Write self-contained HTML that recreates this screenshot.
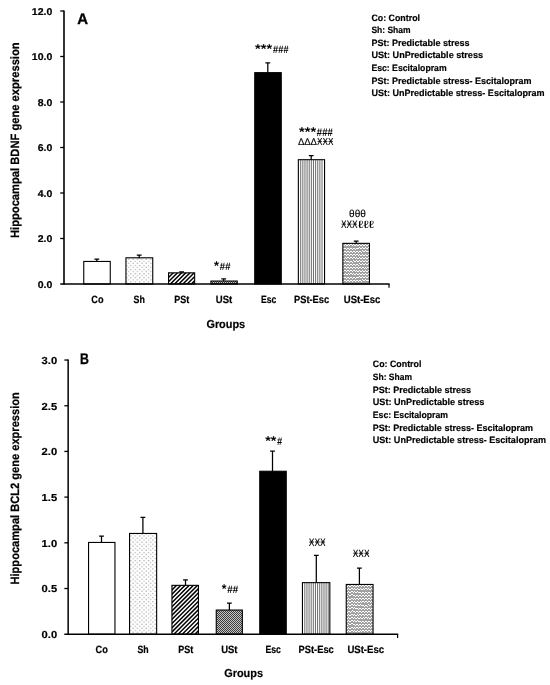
<!DOCTYPE html>
<html lang="en"><head><meta charset="utf-8"><title>Hippocampal BDNF and BCL2 gene expression</title>
<style>html,body{margin:0;padding:0;background:#fff}body{width:550px;height:685px;overflow:hidden}svg{display:block}text{font-family:"Liberation Sans", "DejaVu Sans", sans-serif;fill:#000;text-rendering:geometricPrecision}</style>
</head><body>
<svg width="550" height="685" viewBox="0 0 550 685">
<defs>
<pattern id="dots" width="4.4" height="4.1" patternUnits="userSpaceOnUse"><rect width="4.4" height="4.1" fill="#fff"/><rect x="0.6" y="0.5" width="1" height="1" fill="#8a8a8a"/><rect x="2.8" y="2.55" width="1" height="1" fill="#8a8a8a"/></pattern>
<pattern id="check" width="2" height="2" patternUnits="userSpaceOnUse"><rect width="2" height="2" fill="#c4c4c4"/><rect width="1" height="1" fill="#3c3c3c"/><rect x="1" y="1" width="1" height="1" fill="#3c3c3c"/></pattern>
<path id="zz" d="M0 0l1.45-.7 1.45 .7l1.45-.7 1.45 .7l1.45-.7 1.45 .7l1.45-.7 1.45 .7l1.45-.7 1.45 .7l1.45-.7 1.45 .7l1.45-.7 1.45 .7l1.45-.7 1.45 .7l1.45-.7 1.45 .7l1.45-.7 1.45 .7l1.45-.7 1.45 .7"/>
</defs>
<rect width="550" height="685" fill="#fff"/>
<rect x="83.75" y="261.45" width="26.50" height="22.55" fill="#fff" stroke="#000" stroke-width="1.1"/>
<rect x="125.95" y="257.80" width="26.80" height="26.20" fill="url(#dots)" stroke="#000" stroke-width="1.1"/>
<clipPath id="ch168_272"><rect x="168.50" y="272.80" width="26.20" height="11.20"/></clipPath>
<path clip-path="url(#ch168_272)" d="M156.80 285.00L170.50 271.30M161.00 285.00L174.70 271.30M165.20 285.00L178.90 271.30M169.40 285.00L183.10 271.30M173.60 285.00L187.30 271.30M177.80 285.00L191.50 271.30M182.00 285.00L195.70 271.30M186.20 285.00L199.90 271.30M190.40 285.00L204.10 271.30" stroke="#000" stroke-width="1.5" fill="none"/>
<rect x="168.55" y="272.85" width="26.10" height="11.15" fill="none" stroke="#000" stroke-width="1.1"/>
<rect x="210.95" y="281.05" width="26.30" height="2.95" fill="url(#check)" stroke="#000" stroke-width="1.1"/>
<rect x="254.75" y="72.65" width="26.50" height="211.35" fill="#000" stroke="#000" stroke-width="1.1"/>
<path d="M300.70 160.2V284.0M302.83 160.2V284.0M304.96 160.2V284.0M307.09 160.2V284.0M309.22 160.2V284.0M311.35 160.2V284.0M313.48 160.2V284.0M315.61 160.2V284.0M317.74 160.2V284.0M319.87 160.2V284.0M322.00 160.2V284.0" stroke="#6c6c6c" stroke-width="1" fill="none"/>
<rect x="298.35" y="159.70" width="26.20" height="124.30" fill="none" stroke="#000" stroke-width="1.1"/>
<clipPath id="cz342_242"><rect x="342.80" y="243.30" width="26.70" height="40.70"/></clipPath>
<g clip-path="url(#cz342_242)" stroke="#8a8a8a" stroke-width="0.8" fill="none" shape-rendering="crispEdges"><use href="#zz" x="342.30" y="243.80"/><use href="#zz" x="342.30" y="245.25"/><use href="#zz" x="342.30" y="246.70"/><use href="#zz" x="342.30" y="248.15"/><use href="#zz" x="342.30" y="249.60"/><use href="#zz" x="342.30" y="251.05"/><use href="#zz" x="342.30" y="252.50"/><use href="#zz" x="342.30" y="253.95"/><use href="#zz" x="342.30" y="255.40"/><use href="#zz" x="342.30" y="256.85"/><use href="#zz" x="342.30" y="258.30"/><use href="#zz" x="342.30" y="259.75"/><use href="#zz" x="342.30" y="261.20"/><use href="#zz" x="342.30" y="262.65"/><use href="#zz" x="342.30" y="264.10"/><use href="#zz" x="342.30" y="265.55"/><use href="#zz" x="342.30" y="267.00"/><use href="#zz" x="342.30" y="268.45"/><use href="#zz" x="342.30" y="269.90"/><use href="#zz" x="342.30" y="271.35"/><use href="#zz" x="342.30" y="272.80"/><use href="#zz" x="342.30" y="274.25"/><use href="#zz" x="342.30" y="275.70"/><use href="#zz" x="342.30" y="277.15"/><use href="#zz" x="342.30" y="278.60"/><use href="#zz" x="342.30" y="280.05"/><use href="#zz" x="342.30" y="281.50"/><use href="#zz" x="342.30" y="282.95"/><use href="#zz" x="342.30" y="284.40"/></g>
<rect x="342.85" y="243.35" width="26.60" height="40.65" fill="none" stroke="#000" stroke-width="1.1"/>
<path d="M94.40 259.20H99.20M96.80 259.20V261.40" stroke="#000" stroke-width="1.25" fill="none"/>
<path d="M136.80 255.10H141.60M139.20 255.10V258.20" stroke="#000" stroke-width="1.25" fill="none"/>
<path d="M179.20 271.90H184.00M181.60 271.90V272.80" stroke="#000" stroke-width="1.25" fill="none"/>
<path d="M221.30 278.80H226.10M223.70 278.80V281.00" stroke="#000" stroke-width="1.25" fill="none"/>
<path d="M265.40 62.85H270.20M267.80 62.85V73.00" stroke="#000" stroke-width="1.25" fill="none"/>
<path d="M308.80 155.50H313.60M311.20 155.50V159.80" stroke="#000" stroke-width="1.25" fill="none"/>
<path d="M353.80 241.00H358.60M356.20 241.00V243.30" stroke="#000" stroke-width="1.25" fill="none"/>
<path d="M64.0 10.40V284.80" stroke="#000" stroke-width="1.6" fill="none"/>
<path d="M60.20 284.0H389.6" stroke="#000" stroke-width="1.6" fill="none"/>
<path d="M389.00 284.0V287.70" stroke="#000" stroke-width="1.2" fill="none"/>
<path d="M60.20 11.00H64.0" stroke="#000" stroke-width="1.3" fill="none"/>
<path d="M60.20 56.50H64.0" stroke="#000" stroke-width="1.3" fill="none"/>
<path d="M60.20 102.00H64.0" stroke="#000" stroke-width="1.3" fill="none"/>
<path d="M60.20 147.50H64.0" stroke="#000" stroke-width="1.3" fill="none"/>
<path d="M60.20 193.00H64.0" stroke="#000" stroke-width="1.3" fill="none"/>
<path d="M60.20 238.50H64.0" stroke="#000" stroke-width="1.3" fill="none"/>
<text x="52.3" y="14.55" font-size="9.9" font-weight="bold" text-anchor="end" textLength="20.5" lengthAdjust="spacingAndGlyphs" stroke="#000" stroke-width="0.2">12.0</text>
<text x="52.3" y="60.05" font-size="9.9" font-weight="bold" text-anchor="end" textLength="20.5" lengthAdjust="spacingAndGlyphs" stroke="#000" stroke-width="0.2">10.0</text>
<text x="52.3" y="105.55" font-size="9.9" font-weight="bold" text-anchor="end" textLength="14.6" lengthAdjust="spacingAndGlyphs" stroke="#000" stroke-width="0.2">8.0</text>
<text x="52.3" y="151.05" font-size="9.9" font-weight="bold" text-anchor="end" textLength="14.6" lengthAdjust="spacingAndGlyphs" stroke="#000" stroke-width="0.2">6.0</text>
<text x="52.3" y="196.55" font-size="9.9" font-weight="bold" text-anchor="end" textLength="14.6" lengthAdjust="spacingAndGlyphs" stroke="#000" stroke-width="0.2">4.0</text>
<text x="52.3" y="242.05" font-size="9.9" font-weight="bold" text-anchor="end" textLength="14.6" lengthAdjust="spacingAndGlyphs" stroke="#000" stroke-width="0.2">2.0</text>
<text x="52.3" y="287.55" font-size="9.9" font-weight="bold" text-anchor="end" textLength="14.6" lengthAdjust="spacingAndGlyphs" stroke="#000" stroke-width="0.2">0.0</text>
<text x="91.3" y="303" font-size="10.5" font-weight="bold" textLength="12.2" lengthAdjust="spacingAndGlyphs" stroke="#000" stroke-width="0.2">Co</text>
<text x="133.5" y="303" font-size="10.5" font-weight="bold" textLength="11.3" lengthAdjust="spacingAndGlyphs" stroke="#000" stroke-width="0.2">Sh</text>
<text x="174.2" y="303" font-size="10.5" font-weight="bold" textLength="15.0" lengthAdjust="spacingAndGlyphs" stroke="#000" stroke-width="0.2">PSt</text>
<text x="215.8" y="303" font-size="10.5" font-weight="bold" textLength="16.4" lengthAdjust="spacingAndGlyphs" stroke="#000" stroke-width="0.2">USt</text>
<text x="261" y="303" font-size="10.5" font-weight="bold" textLength="15.2" lengthAdjust="spacingAndGlyphs" stroke="#000" stroke-width="0.2">Esc</text>
<text x="294.0" y="303" font-size="10.5" font-weight="bold" textLength="35.1" lengthAdjust="spacingAndGlyphs" stroke="#000" stroke-width="0.2">PSt-Esc</text>
<text x="343.8" y="303" font-size="10.5" font-weight="bold" textLength="36.5" lengthAdjust="spacingAndGlyphs" stroke="#000" stroke-width="0.2">USt-Esc</text>
<text x="206.4" y="327.6" font-size="11.6" font-weight="bold" textLength="38.8" lengthAdjust="spacingAndGlyphs" stroke="#000" stroke-width="0.2">Groups</text>
<text x="77.3" y="24" font-size="15.4" font-weight="bold" textLength="10.8" lengthAdjust="spacingAndGlyphs" stroke="#000" stroke-width="0.35">A</text>
<text transform="translate(18.6 238) rotate(-90)" font-size="12" font-weight="bold" stroke="#000" stroke-width="0.25" textLength="195.6" lengthAdjust="spacingAndGlyphs">Hippocampal BDNF gene expression</text>
<text x="371.4" y="20.50" font-size="9.3" font-weight="bold" textLength="48.6" lengthAdjust="spacingAndGlyphs" stroke="#000" stroke-width="0.18">Co: Control</text>
<text x="371.4" y="33.15" font-size="9.3" font-weight="bold" textLength="39.2" lengthAdjust="spacingAndGlyphs" stroke="#000" stroke-width="0.18">Sh: Sham</text>
<text x="371.4" y="45.80" font-size="9.3" font-weight="bold" textLength="98.2" lengthAdjust="spacingAndGlyphs" stroke="#000" stroke-width="0.18">PSt: Predictable stress</text>
<text x="371.4" y="58.45" font-size="9.3" font-weight="bold" textLength="111.6" lengthAdjust="spacingAndGlyphs" stroke="#000" stroke-width="0.18">USt: UnPredictable stress</text>
<text x="371.4" y="71.10" font-size="9.3" font-weight="bold" textLength="75.2" lengthAdjust="spacingAndGlyphs" stroke="#000" stroke-width="0.18">Esc: Escitalopram</text>
<text x="371.4" y="83.75" font-size="9.3" font-weight="bold" textLength="160.2" lengthAdjust="spacingAndGlyphs" stroke="#000" stroke-width="0.18">PSt: Predictable stress- Escitalopram</text>
<text x="371.4" y="96.40" font-size="9.3" font-weight="bold" textLength="173.2" lengthAdjust="spacingAndGlyphs" stroke="#000" stroke-width="0.18">USt: UnPredictable stress- Escitalopram</text>
<text x="214.1" y="270.26" font-size="12.7" font-weight="bold" textLength="5.0" lengthAdjust="spacingAndGlyphs">*</text>
<text x="219.5" y="270.0" font-size="10.74" font-weight="bold" textLength="10.8" lengthAdjust="spacingAndGlyphs" font-style="italic">##</text>
<text x="255.1" y="53.26" font-size="12.7" font-weight="bold" textLength="17.0" lengthAdjust="spacingAndGlyphs">***</text>
<text x="272.7" y="53.0" font-size="10.74" font-weight="bold" textLength="15.8" lengthAdjust="spacingAndGlyphs" font-style="italic">###</text>
<text x="299.1" y="136.06" font-size="12.7" font-weight="bold" textLength="17.0" lengthAdjust="spacingAndGlyphs">***</text>
<text x="316.5" y="135.8" font-size="11.18" font-weight="bold" textLength="16.2" lengthAdjust="spacingAndGlyphs" font-style="italic">###</text>
<text x="297.9" y="145.2" font-size="9.71" textLength="19.1" lengthAdjust="spacingAndGlyphs" stroke="#000" stroke-width="0.12">&#916;&#916;&#916;</text>
<text x="317" y="145.2" font-size="9.59" textLength="16.4" lengthAdjust="spacingAndGlyphs" stroke="#000" stroke-width="0.12" style="font-family:'DejaVu Sans',sans-serif">&#1278;&#1278;&#1278;</text>
<text x="349.1" y="217.3" font-size="10.14" textLength="16.8" lengthAdjust="spacingAndGlyphs" stroke="#000" stroke-width="0.12">&#952;&#952;&#952;</text>
<text x="340.9" y="227.7" font-size="10.27" textLength="16.8" lengthAdjust="spacingAndGlyphs" stroke="#000" stroke-width="0.12" style="font-family:'DejaVu Sans',sans-serif">&#1278;&#1278;&#1278;</text>
<text x="357.7" y="227.7" font-size="10.56" textLength="16.4" lengthAdjust="spacingAndGlyphs">&#8467;&#8467;&#8467;</text>
<rect x="88.55" y="542.45" width="26.40" height="91.75" fill="#fff" stroke="#000" stroke-width="1.1"/>
<rect x="129.55" y="533.45" width="27.10" height="100.75" fill="url(#dots)" stroke="#000" stroke-width="1.1"/>
<clipPath id="ch171_584"><rect x="171.90" y="585.30" width="26.60" height="48.90"/></clipPath>
<path clip-path="url(#ch171_584)" d="M122.50 635.20L173.90 583.80M126.70 635.20L178.10 583.80M130.90 635.20L182.30 583.80M135.10 635.20L186.50 583.80M139.30 635.20L190.70 583.80M143.50 635.20L194.90 583.80M147.70 635.20L199.10 583.80M151.90 635.20L203.30 583.80M156.10 635.20L207.50 583.80M160.30 635.20L211.70 583.80M164.50 635.20L215.90 583.80M168.70 635.20L220.10 583.80M172.90 635.20L224.30 583.80M177.10 635.20L228.50 583.80M181.30 635.20L232.70 583.80M185.50 635.20L236.90 583.80M189.70 635.20L241.10 583.80M193.90 635.20L245.30 583.80" stroke="#000" stroke-width="1.5" fill="none"/>
<rect x="171.95" y="585.35" width="26.50" height="48.85" fill="none" stroke="#000" stroke-width="1.1"/>
<rect x="216.25" y="610.05" width="26.10" height="24.15" fill="url(#check)" stroke="#000" stroke-width="1.1"/>
<rect x="259.75" y="471.25" width="26.50" height="162.95" fill="#000" stroke="#000" stroke-width="1.1"/>
<path d="M304.80 583.1V634.2M306.93 583.1V634.2M309.06 583.1V634.2M311.19 583.1V634.2M313.32 583.1V634.2M315.45 583.1V634.2M317.58 583.1V634.2M319.71 583.1V634.2M321.84 583.1V634.2M323.97 583.1V634.2M326.10 583.1V634.2M328.23 583.1V634.2" stroke="#6c6c6c" stroke-width="1" fill="none"/>
<rect x="302.45" y="582.65" width="27.40" height="51.55" fill="none" stroke="#000" stroke-width="1.1"/>
<clipPath id="cz345_583"><rect x="346.20" y="584.40" width="26.90" height="49.80"/></clipPath>
<g clip-path="url(#cz345_583)" stroke="#8a8a8a" stroke-width="0.8" fill="none" shape-rendering="crispEdges"><use href="#zz" x="345.70" y="584.90"/><use href="#zz" x="345.70" y="586.35"/><use href="#zz" x="345.70" y="587.80"/><use href="#zz" x="345.70" y="589.25"/><use href="#zz" x="345.70" y="590.70"/><use href="#zz" x="345.70" y="592.15"/><use href="#zz" x="345.70" y="593.60"/><use href="#zz" x="345.70" y="595.05"/><use href="#zz" x="345.70" y="596.50"/><use href="#zz" x="345.70" y="597.95"/><use href="#zz" x="345.70" y="599.40"/><use href="#zz" x="345.70" y="600.85"/><use href="#zz" x="345.70" y="602.30"/><use href="#zz" x="345.70" y="603.75"/><use href="#zz" x="345.70" y="605.20"/><use href="#zz" x="345.70" y="606.65"/><use href="#zz" x="345.70" y="608.10"/><use href="#zz" x="345.70" y="609.55"/><use href="#zz" x="345.70" y="611.00"/><use href="#zz" x="345.70" y="612.45"/><use href="#zz" x="345.70" y="613.90"/><use href="#zz" x="345.70" y="615.35"/><use href="#zz" x="345.70" y="616.80"/><use href="#zz" x="345.70" y="618.25"/><use href="#zz" x="345.70" y="619.70"/><use href="#zz" x="345.70" y="621.15"/><use href="#zz" x="345.70" y="622.60"/><use href="#zz" x="345.70" y="624.05"/><use href="#zz" x="345.70" y="625.50"/><use href="#zz" x="345.70" y="626.95"/><use href="#zz" x="345.70" y="628.40"/><use href="#zz" x="345.70" y="629.85"/><use href="#zz" x="345.70" y="631.30"/><use href="#zz" x="345.70" y="632.75"/><use href="#zz" x="345.70" y="634.20"/></g>
<rect x="346.25" y="584.45" width="26.80" height="49.75" fill="none" stroke="#000" stroke-width="1.1"/>
<path d="M99.10 536.00H103.90M101.50 536.00V542.50" stroke="#000" stroke-width="1.25" fill="none"/>
<path d="M140.50 517.40H145.30M142.90 517.40V533.50" stroke="#000" stroke-width="1.25" fill="none"/>
<path d="M183.10 579.80H187.90M185.50 579.80V585.40" stroke="#000" stroke-width="1.25" fill="none"/>
<path d="M227.00 603.00H231.80M229.40 603.00V610.00" stroke="#000" stroke-width="1.25" fill="none"/>
<path d="M270.10 451.20H274.90M272.50 451.20V471.00" stroke="#000" stroke-width="1.25" fill="none"/>
<path d="M313.90 555.40H318.70M316.30 555.40V582.70" stroke="#000" stroke-width="1.25" fill="none"/>
<path d="M357.00 568.00H361.80M359.40 568.00V584.50" stroke="#000" stroke-width="1.25" fill="none"/>
<path d="M68.15 359.45V635.00" stroke="#000" stroke-width="1.5" fill="none"/>
<path d="M64.35 634.2H398.2" stroke="#000" stroke-width="1.6" fill="none"/>
<path d="M397.60 634.2V637.90" stroke="#000" stroke-width="1.2" fill="none"/>
<path d="M64.35 360.05H68.15" stroke="#000" stroke-width="1.3" fill="none"/>
<path d="M64.35 405.74H68.15" stroke="#000" stroke-width="1.3" fill="none"/>
<path d="M64.35 451.43H68.15" stroke="#000" stroke-width="1.3" fill="none"/>
<path d="M64.35 497.12H68.15" stroke="#000" stroke-width="1.3" fill="none"/>
<path d="M64.35 542.82H68.15" stroke="#000" stroke-width="1.3" fill="none"/>
<path d="M64.35 588.51H68.15" stroke="#000" stroke-width="1.3" fill="none"/>
<text x="57.1" y="363.90" font-size="10.2" font-weight="bold" text-anchor="end" textLength="15.5" lengthAdjust="spacingAndGlyphs" stroke="#000" stroke-width="0.2">3.0</text>
<text x="57.1" y="409.59" font-size="10.2" font-weight="bold" text-anchor="end" textLength="15.5" lengthAdjust="spacingAndGlyphs" stroke="#000" stroke-width="0.2">2.5</text>
<text x="57.1" y="455.28" font-size="10.2" font-weight="bold" text-anchor="end" textLength="15.5" lengthAdjust="spacingAndGlyphs" stroke="#000" stroke-width="0.2">2.0</text>
<text x="57.1" y="500.98" font-size="10.2" font-weight="bold" text-anchor="end" textLength="15.5" lengthAdjust="spacingAndGlyphs" stroke="#000" stroke-width="0.2">1.5</text>
<text x="57.1" y="546.67" font-size="10.2" font-weight="bold" text-anchor="end" textLength="15.5" lengthAdjust="spacingAndGlyphs" stroke="#000" stroke-width="0.2">1.0</text>
<text x="57.1" y="592.36" font-size="10.2" font-weight="bold" text-anchor="end" textLength="15.5" lengthAdjust="spacingAndGlyphs" stroke="#000" stroke-width="0.2">0.5</text>
<text x="57.1" y="638.05" font-size="10.2" font-weight="bold" text-anchor="end" textLength="15.5" lengthAdjust="spacingAndGlyphs" stroke="#000" stroke-width="0.2">0.0</text>
<text x="95.5" y="652.5" font-size="10.5" font-weight="bold" textLength="12.3" lengthAdjust="spacingAndGlyphs" stroke="#000" stroke-width="0.2">Co</text>
<text x="137.5" y="652.5" font-size="10.5" font-weight="bold" textLength="11.2" lengthAdjust="spacingAndGlyphs" stroke="#000" stroke-width="0.2">Sh</text>
<text x="178.2" y="652.5" font-size="10.5" font-weight="bold" textLength="15.0" lengthAdjust="spacingAndGlyphs" stroke="#000" stroke-width="0.2">PSt</text>
<text x="221.2" y="652.5" font-size="10.5" font-weight="bold" textLength="16.3" lengthAdjust="spacingAndGlyphs" stroke="#000" stroke-width="0.2">USt</text>
<text x="265.5" y="652.5" font-size="10.5" font-weight="bold" textLength="15.3" lengthAdjust="spacingAndGlyphs" stroke="#000" stroke-width="0.2">Esc</text>
<text x="298.6" y="652.5" font-size="10.5" font-weight="bold" textLength="35.2" lengthAdjust="spacingAndGlyphs" stroke="#000" stroke-width="0.2">PSt-Esc</text>
<text x="347.4" y="652.5" font-size="10.5" font-weight="bold" textLength="36.7" lengthAdjust="spacingAndGlyphs" stroke="#000" stroke-width="0.2">USt-Esc</text>
<text x="224.2" y="676.6" font-size="11.6" font-weight="bold" textLength="38.8" lengthAdjust="spacingAndGlyphs" stroke="#000" stroke-width="0.2">Groups</text>
<text x="79.9" y="364.0" font-size="15.4" font-weight="bold" textLength="8.9" lengthAdjust="spacingAndGlyphs" stroke="#000" stroke-width="0.35">B</text>
<text transform="translate(18.7 584.5) rotate(-90)" font-size="12" font-weight="bold" stroke="#000" stroke-width="0.25" textLength="192.3" lengthAdjust="spacingAndGlyphs">Hippocampal BCL2 gene expression</text>
<text x="372.8" y="367.40" font-size="9.3" font-weight="bold" textLength="48.6" lengthAdjust="spacingAndGlyphs" stroke="#000" stroke-width="0.18">Co: Control</text>
<text x="372.8" y="380.05" font-size="9.3" font-weight="bold" textLength="39.2" lengthAdjust="spacingAndGlyphs" stroke="#000" stroke-width="0.18">Sh: Sham</text>
<text x="372.8" y="392.70" font-size="9.3" font-weight="bold" textLength="98.2" lengthAdjust="spacingAndGlyphs" stroke="#000" stroke-width="0.18">PSt: Predictable stress</text>
<text x="372.8" y="405.35" font-size="9.3" font-weight="bold" textLength="111.6" lengthAdjust="spacingAndGlyphs" stroke="#000" stroke-width="0.18">USt: UnPredictable stress</text>
<text x="372.8" y="418.00" font-size="9.3" font-weight="bold" textLength="75.2" lengthAdjust="spacingAndGlyphs" stroke="#000" stroke-width="0.18">Esc: Escitalopram</text>
<text x="372.8" y="430.65" font-size="9.3" font-weight="bold" textLength="160.2" lengthAdjust="spacingAndGlyphs" stroke="#000" stroke-width="0.18">PSt: Predictable stress- Escitalopram</text>
<text x="372.8" y="443.30" font-size="9.3" font-weight="bold" textLength="173.2" lengthAdjust="spacingAndGlyphs" stroke="#000" stroke-width="0.18">USt: UnPredictable stress- Escitalopram</text>
<text x="221.8" y="592.86" font-size="12.7" font-weight="bold" textLength="4.7" lengthAdjust="spacingAndGlyphs">*</text>
<text x="227.0" y="592.5" font-size="10.74" font-weight="bold" textLength="11.2" lengthAdjust="spacingAndGlyphs" font-style="italic">##</text>
<text x="265.3" y="445.16" font-size="12.7" font-weight="bold" textLength="11.1" lengthAdjust="spacingAndGlyphs">**</text>
<text x="277.0" y="445.1" font-size="11.18" font-weight="bold" textLength="5.0" lengthAdjust="spacingAndGlyphs" font-style="italic">#</text>
<text x="308.8" y="546.1" font-size="10.14" textLength="16.9" lengthAdjust="spacingAndGlyphs" stroke="#000" stroke-width="0.12" style="font-family:'DejaVu Sans',sans-serif">&#1278;&#1278;&#1278;</text>
<text x="352.7" y="556.5" font-size="10.0" textLength="16.8" lengthAdjust="spacingAndGlyphs" stroke="#000" stroke-width="0.12" style="font-family:'DejaVu Sans',sans-serif">&#1278;&#1278;&#1278;</text>
</svg>
</body></html>
